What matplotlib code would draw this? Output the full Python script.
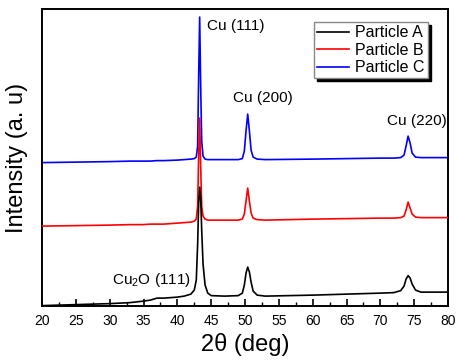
import matplotlib.pyplot as plt
from matplotlib.ticker import MultipleLocator

plt.rcParams['font.family'] = ['Liberation Sans', 'DejaVu Sans']
plt.rcParams['mathtext.fontset'] = 'custom'
plt.rcParams['mathtext.rm'] = 'Liberation Sans'
plt.rcParams['mathtext.default'] = 'regular'

# 2-theta sample positions (deg)
two_theta = [20, 25, 30, 33, 35, 36, 37, 38, 40, 41, 42, 42.5, 42.8, 43.0, 43.15,
             43.3, 43.45, 43.6, 43.8, 44.1, 44.5, 45, 47, 49, 49.6, 49.9, 50.15,
             50.4, 50.65, 50.9, 51.2, 51.8, 53, 60, 65, 70, 72, 73, 73.5, 73.8,
             74.1, 74.4, 74.7, 75.2, 76, 80]

# intensities (a.u., already stacked)
particle_a = [0.5, 1.5, 2.5, 3.5, 5, 6, 8, 8, 9, 10, 12, 16, 26, 62, 102,
              119, 108, 76, 42, 21, 13, 10.5, 10, 10.5, 13, 21, 33,
              39, 34, 24, 15, 11, 10, 11, 12, 13, 13.5, 15.5, 20, 27,
              30.5, 28, 22, 16, 14, 14]
particle_b = [80, 80.5, 81, 81.5, 81.5, 82, 82, 82, 83, 83.5, 84, 85, 87, 100, 150,
              188, 140, 100, 90, 87, 86, 86, 86, 86, 87, 92, 105,
              118, 105, 93, 88, 86.5, 86, 87, 87.5, 88, 88, 88.5, 90, 96,
              104, 98, 92, 89, 88.5, 88.5]
particle_c = [143.5, 144, 144.5, 145, 145, 145, 145.5, 145.5, 146, 146.5, 147, 147.5, 149, 160, 230,
              289, 220, 165, 150, 147, 146.5, 146.5, 146.5, 146.5, 147.5, 155, 175,
              192, 175, 156, 149, 147, 146.5, 147, 147.5, 148, 148, 148.5, 151, 160,
              170, 163, 153, 149, 148.5, 148.5]

fig = plt.figure(figsize=(4.74, 3.64), dpi=100)
ax = fig.add_axes([0.0886, 0.159, 0.8566, 0.816])

ax.plot(two_theta, particle_c, color='#0000ff', lw=1.2, label='Particle C', zorder=2)
ax.plot(two_theta, particle_b, color='#ff0000', lw=1.2, label='Particle B', zorder=3)
ax.plot(two_theta, particle_a, color='black', lw=1.2, label='Particle A', zorder=4)

# peak labels
ax.text(44.4, 280, 'Cu (111)', fontsize=11, va='center')
ax.text(48.2, 208, 'Cu (200)', fontsize=11, va='center')
ax.text(71.0, 185, 'Cu (220)', fontsize=11, va='center')
ax.text(30.3, 26, r'Cu$_2$O (111)', fontsize=11, va='center')

ax.set_xlim(20, 80)
ax.set_ylim(0, 297)
ax.xaxis.set_major_locator(MultipleLocator(5))
ax.xaxis.set_minor_locator(MultipleLocator(2.5))
ax.tick_params(axis='x', which='both', direction='in', labelsize=10, pad=6)
ax.tick_params(axis='x', which='major', length=5, width=1.2)
ax.tick_params(axis='x', which='minor', length=3, width=1.0)
ax.set_yticks([])
for s in ax.spines.values():
    s.set_linewidth(1.4)

ax.set_xlabel('2θ (deg)', fontsize=17, labelpad=3)
ax.set_ylabel('Intensity (a. u)', fontsize=17, labelpad=10)

handles, labels = ax.get_legend_handles_labels()
leg = ax.legend(handles[::-1], labels[::-1], loc='upper right',
                bbox_to_anchor=(0.951, 0.956), fontsize=11.5, fancybox=False,
                shadow={'color': 'black', 'alpha': 1}, framealpha=1,
                edgecolor='#888888', handlelength=2.0, handletextpad=0.4,
                borderpad=0.2, labelspacing=0.15, borderaxespad=0)
leg.get_frame().set_linewidth(1.0)

plt.savefig('out.png', dpi=100)
